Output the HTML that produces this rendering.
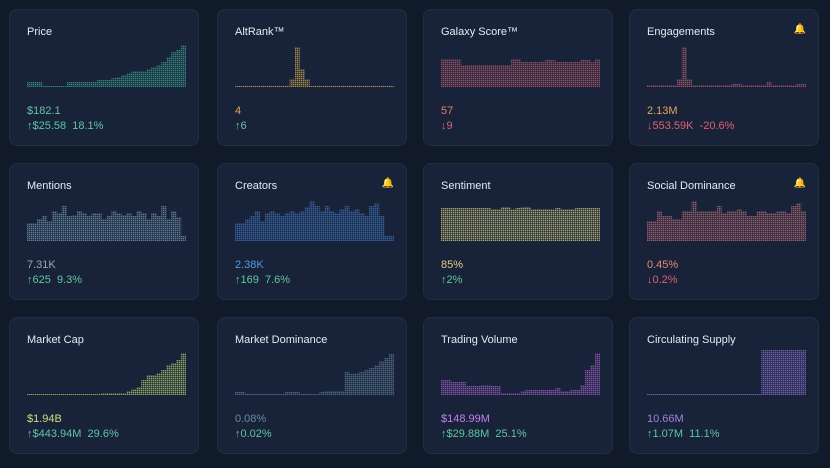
<!DOCTYPE html>
<html><head><meta charset="utf-8">
<style>
body{margin:0;width:830px;height:468px;background:#111a28;font-family:"Liberation Sans",sans-serif;overflow:hidden;position:relative}
.card{position:absolute;width:190px;height:137px;background:#18233a;border:1px solid #222e44;border-radius:8px;box-sizing:border-box}
.t{position:absolute;left:17px;top:16px;font-size:11px;color:#e6eaf0}
.v{position:absolute;left:17px;top:95px;font-size:11px}
.c{position:absolute;left:17px;top:110px;font-size:11px}
.bell{position:absolute;right:12px;top:14px;font-size:10px;color:#f0a040}
svg{position:absolute;left:17px;top:30px}
</style></head><body>
<div id="root"></div>
<script>
const titles=["Price","AltRank™","Galaxy Score™","Engagements","Mentions","Creators","Sentiment","Social Dominance","Market Cap","Market Dominance","Trading Volume","Circulating Supply"];
const values=["$182.1","4","57","2.13M","7.31K","2.38K","85%","0.45%","$1.94B","0.08%","$148.99M","10.66M"];
const changes=[["↑$25.58","18.1%"],["↑6",""],["↓9",""],["↓553.59K","-20.6%"],["↑625","9.3%"],["↑169","7.6%"],["↑2%",""],["↓0.2%",""],["↑$443.94M","29.6%"],["↑0.02%",""],["↑$29.88M","25.1%"],["↑1.07M","11.1%"]];
const s0=[5,5,5,1,1,1,1,1,5,5,5,5,5,5,7,7,7,9,10,12,14,16,16,16,18,20,22,25,30,35,37,42];
const s1=[1,1,1,1,1,1,1,1,1,1,1,8,40,18,8,1,1,1,1,1,1,1,1,1,1,1,1,1,1,1,1,1];
const s2=[28,28,28,28,22,22,22,22,22,22,22,22,22,22,28,28,25,25,25,25,25,27,27,25,25,25,25,25,27,27,25,28];
const s3=[2,2,2,2,2,2,8,40,8,2,2,2,2,2,2,2,2,3,3,2,2,2,2,2,5,2,2,2,2,2,3,3];
const s4=[18,18,22,25,20,30,28,35,25,26,30,28,25,28,28,22,25,30,28,26,28,25,30,28,22,28,25,35,22,30,24,5];
const s5=[18,18,22,25,30,20,28,30,28,25,28,30,28,30,34,40,35,30,35,30,28,32,35,30,32,28,25,35,38,25,5,5];
const s6=[33,33,33,33,33,33,33,33,33,33,32,32,34,34,32,33,34,34,32,32,32,32,32,33,32,32,32,33,33,33,33,33];
const s7=[20,20,30,25,25,22,22,30,30,40,30,30,30,30,35,28,30,30,32,30,25,25,30,30,28,28,30,30,28,35,38,30];
const s8=[1,1,1,1,1,1,1,1,1,1,1,1,1,1,1,2,2,2,2,2,4,6,8,15,20,20,22,25,30,32,35,42];
const s9=[3,3,1,1,1,1,1,1,1,1,3,3,3,1,1,1,1,3,4,4,4,4,23,21,22,23,25,27,30,34,37,41];
const s10=[15,15,13,13,13,9,9,9,10,10,9,9,2,2,2,2,4,5,5,5,5,5,5,7,4,4,5,5,10,25,30,42];
const s11=[1,1,1,1,1,1,1,1,1,1,1,1,1,1,1,1,1,1,1,1,1,1,1,45,45,45,45,45,45,45,45,45];
const series=[s0,s1,s2,s3,s4,s5,s6,s7,s8,s9,s10,s11];
const barCol=["#3a9c86","#c9a04a","#b0586a","#b55d6a","#6f8fa8","#3f72b8","#c8c07a","#b56a72","#a6c46a","#5a7690","#9a5cc0","#8a6ac8"];
const valCol=["#5fc6a2","#e0a45a","#e27b6e","#e0a45a","#9aa8b8","#4f9be0","#e0d080","#e28a7a","#c8e080","#6a8aa0","#c080f0","#a080e0"];
const bells=[3,5,7];
const cx=[9,217,423,629], cy=[9,163,317];
const W=159,H=48,maxV=45;
const root=document.getElementById('root');
const ns="http://www.w3.org/2000/svg";
titles.forEach((t,i)=>{
  const card=document.createElement('div');card.className='card';
  
  
  card.style.left=cx[i%4]+'px';card.style.top=cy[Math.floor(i/4)]+'px';
  const ti=document.createElement('div');ti.className='t';ti.textContent=t;
  
  
  card.appendChild(ti);
  if(bells.includes(i)){const b=document.createElement('div');b.className='bell';b.textContent='🔔';
    
    
    card.appendChild(b);}
  const svg=document.createElementNS(ns,'svg');svg.setAttribute('width',W);svg.setAttribute('height',H);
  
  
  const defs=document.createElementNS(ns,'defs');
  const pat=document.createElementNS(ns,'pattern');pat.setAttribute('id','p'+i);pat.setAttribute('width',2);pat.setAttribute('height',2);pat.setAttribute('patternUnits','userSpaceOnUse');
  const pr=document.createElementNS(ns,'rect');pr.setAttribute('width',1.4);pr.setAttribute('height',1.4);pr.setAttribute('fill',barCol[i]);
  pat.appendChild(pr);defs.appendChild(pat);svg.appendChild(defs);
  const d=series[i],bw=W/d.length;
  const y=v=>H-1-v/maxV*(H-3);
  d.forEach((v,k)=>{
    const r=document.createElementNS(ns,'rect');
    
    
    r.setAttribute('x',k*bw);r.setAttribute('width',bw+0.2);
    r.setAttribute('y',y(v));r.setAttribute('height',H-1-y(v));
    r.setAttribute('opacity','0.8');
    r.setAttribute('fill','url(#p'+i+')');svg.appendChild(r);
  });
  card.appendChild(svg);
  const v=document.createElement('div');v.className='v';v.textContent=values[i];v.style.color=valCol[i];
  
  
  card.appendChild(v);
  const c=document.createElement('div');c.className='c';
  const up=changes[i][0][0]==='↑';
  c.style.color=up?'#5fc6a2':'#e06070';
  c.innerHTML=changes[i][0]+(changes[i][1]?'&nbsp;&nbsp;'+changes[i][1]:'');
  
  
  card.appendChild(c);
  root.appendChild(card);
});
</script>
</body></html>
